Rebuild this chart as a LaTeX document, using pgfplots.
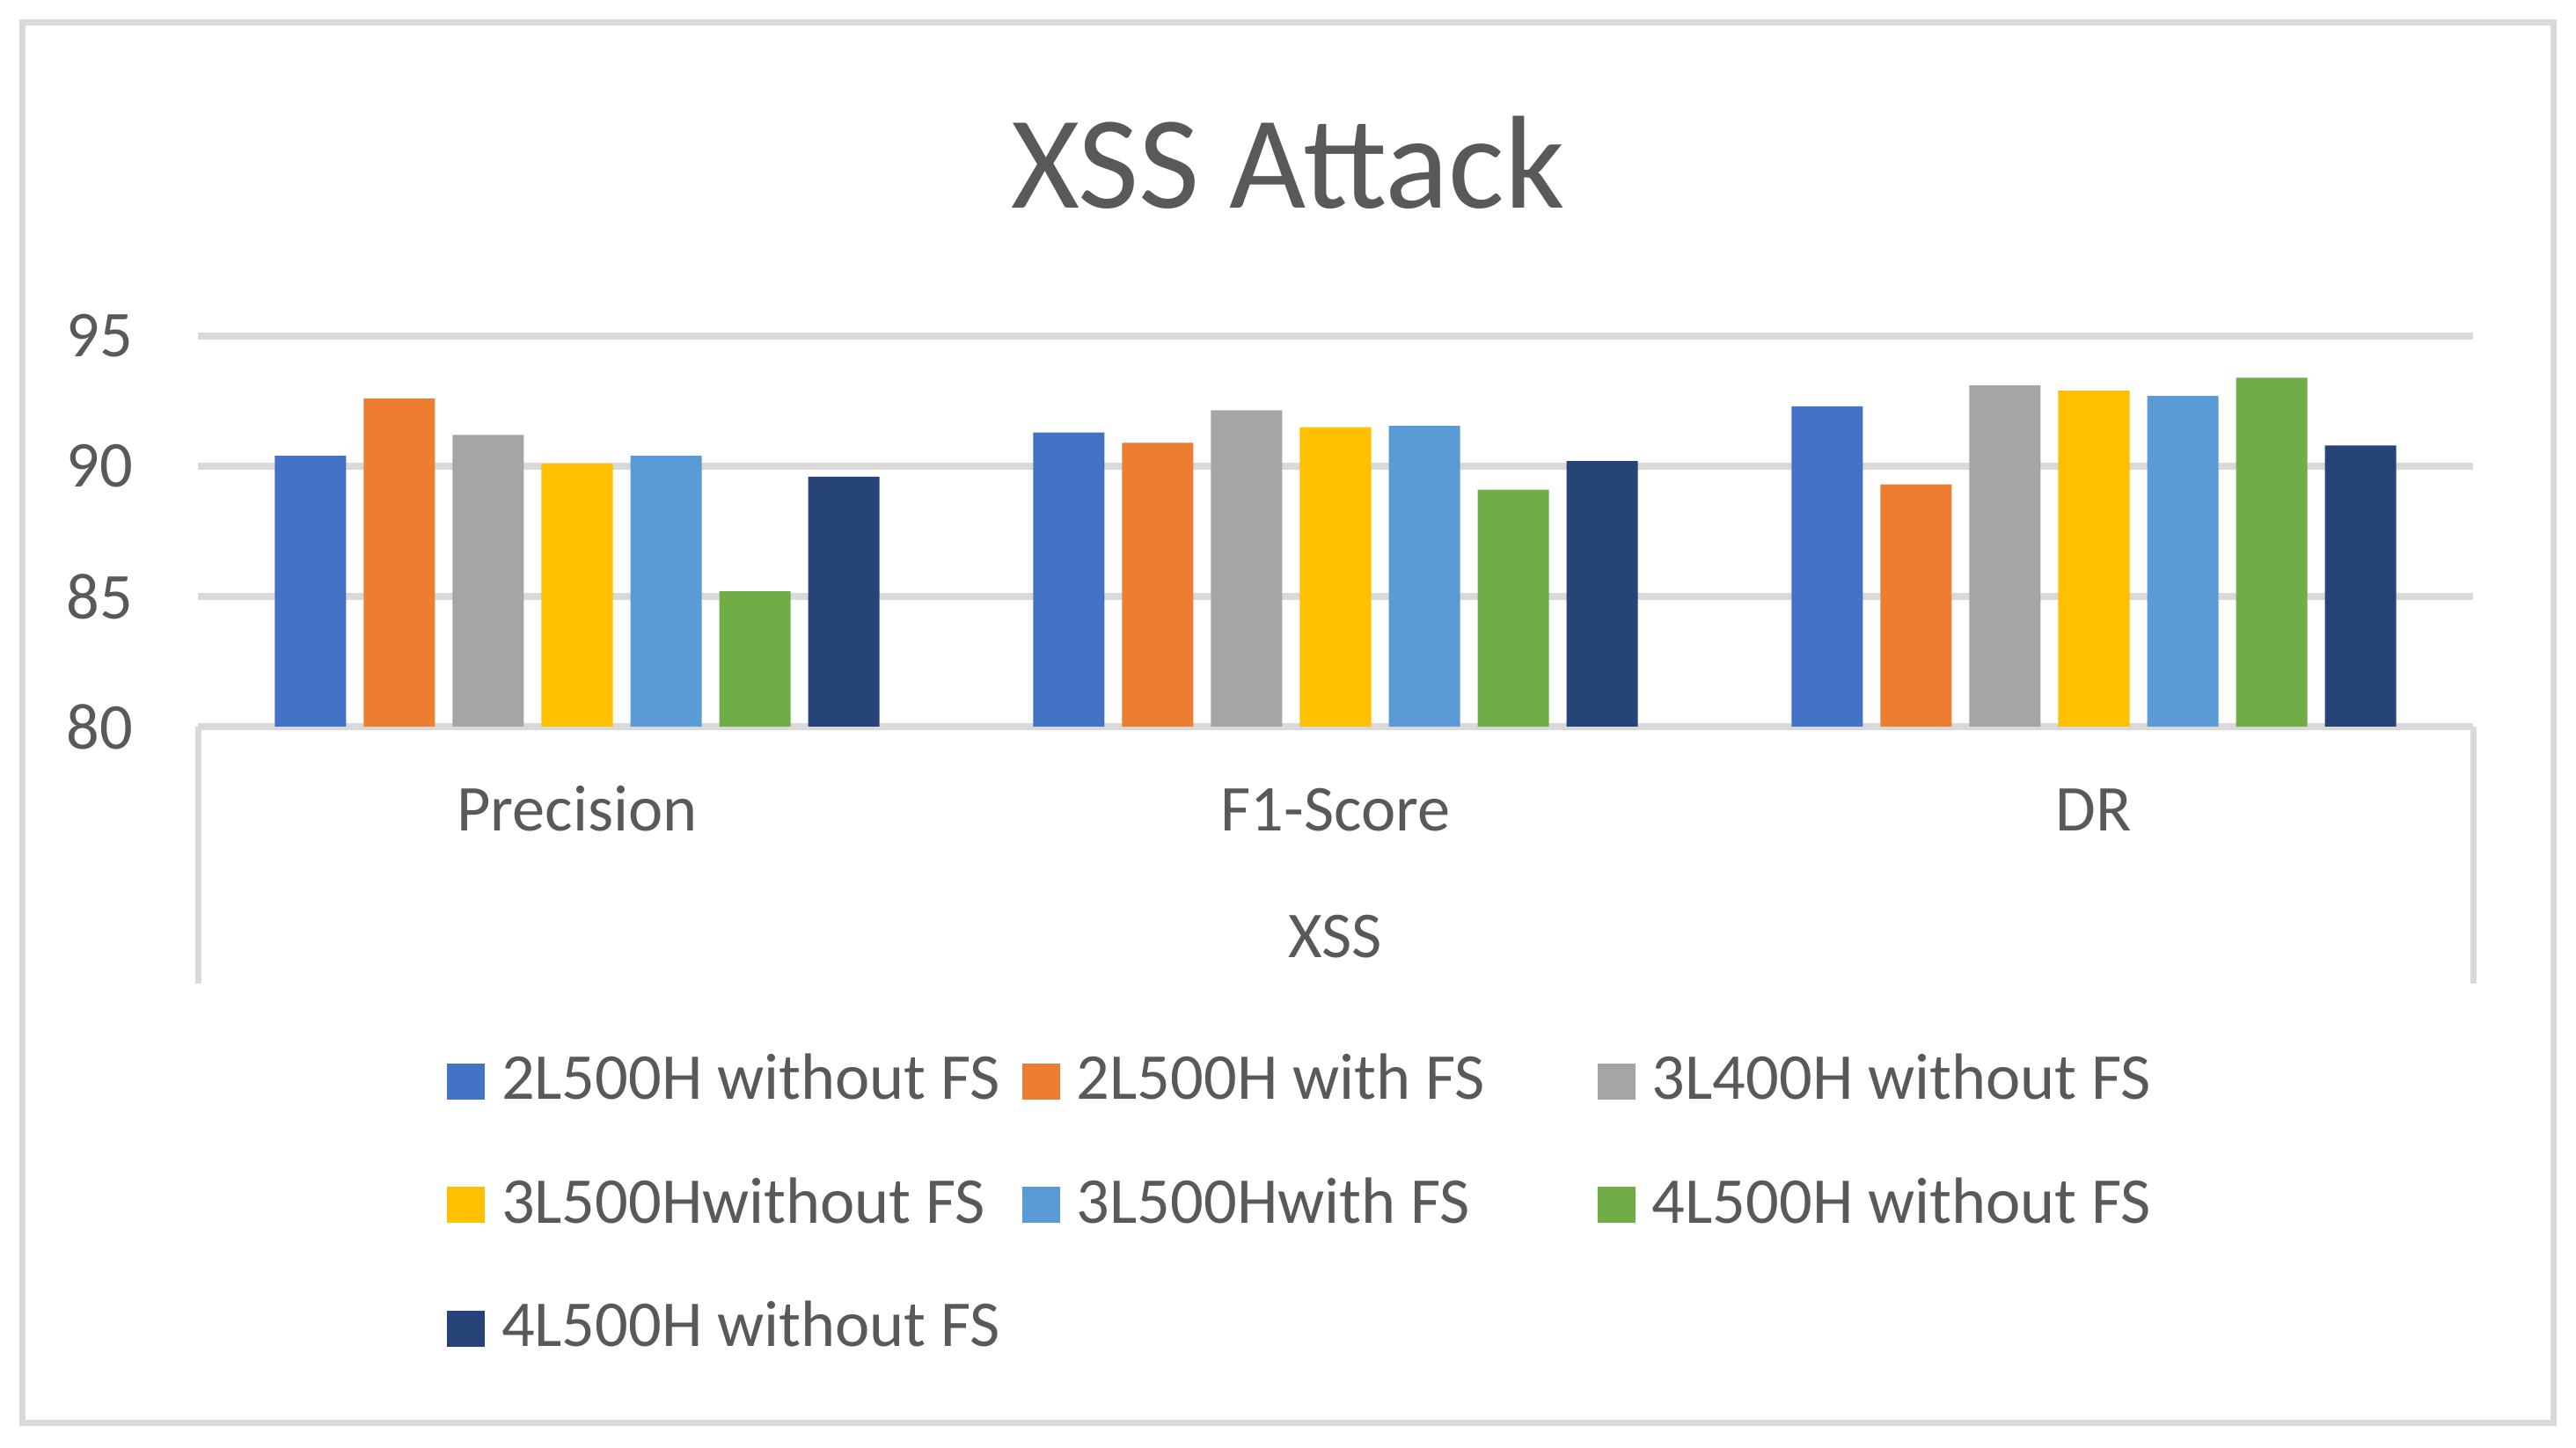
\documentclass[border=0pt]{standalone}
\usepackage{fontspec}
\setmainfont{Carlito}
\usepackage{pgfplots}
\usepackage{pgfplotstable}
\pgfplotsset{compat=1.18}
\definecolor{c1}{HTML}{4472C4}
\definecolor{c2}{HTML}{ED7D31}
\definecolor{c3}{HTML}{A5A5A5}
\definecolor{c4}{HTML}{FFC000}
\definecolor{c5}{HTML}{5B9BD5}
\definecolor{c6}{HTML}{70AD47}
\definecolor{c7}{HTML}{264478}
\definecolor{grd}{HTML}{D9D9D9}
\definecolor{txt}{HTML}{595959}
\pgfplotstableread{
x s1 s2 s3 s4 s5 s6 s7
0 90.4 92.6 91.2 90.1 90.4 85.2 89.6
1 91.3 90.9 92.15 91.5 91.55 89.1 90.2
2 92.3 89.3 93.1 92.9 92.7 93.4 90.8
}\datatable
\newcommand{\lab}[1]{\makebox[148pt][l]{#1}}
\begin{document}
\color{txt}
\begin{tikzpicture}
\path[use as bounding box] (0pt,0pt) rectangle (732pt,411.5pt);
\draw[grd, line width=1.75pt] (6.25pt,7pt) rectangle (725.5pt,405pt);
\begin{axis}[
  name=ax,
  at={(56.25pt,205pt)}, anchor=south west,
  scale only axis, width=646.5pt, height=111pt,
  xmin=-0.5, xmax=2.5, ymin=80, ymax=95,
  ytick={80,85,90,95},
  xtick={0,1,2}, xticklabels={Precision,F1-Score,DR},
  ymajorgrids, grid style={line width=2pt, color=grd},
  axis line style={draw=none}, major tick length=0pt,
  /pgf/number format/assume math mode=true,
  tick label style={font=\fontsize{18.6}{22}\selectfont, text=txt},
  xticklabel style={anchor=base, inner sep=0pt, yshift=-29.75pt},
  yticklabel style={anchor=east, inner sep=0pt, xshift=-18.25pt},
  xlabel={XSS},
  xlabel style={at={(axis description cs:0.5,-0.5923)}, anchor=base, inner sep=0pt, font=\fontsize{18.6}{22}\selectfont, text=txt},
  title={XSS Attack},
  every axis title shift=0pt,
  title style={at={(axis description cs:0.47912,1.3266)}, anchor=base, inner sep=0pt, font=\fontsize{37.6}{44}\selectfont, text=txt},
  ybar, bar width=0.094,
  legend columns=3,
  legend style={at={(axis description cs:0.10944,-0.6387)}, anchor=north west,
    draw=none, fill=none, inner sep=0pt, outer sep=0pt,
    cells={anchor=base},
    nodes={inner sep=0pt, text height=35.1pt, text depth=0pt, font=\fontsize{18.6}{22}\selectfont, text=txt},
    /tikz/every odd column/.append style={column sep=4.75pt},
    /tikz/every even column/.append style={column sep=0pt},
    row sep=0pt},
]
\pgfplotsset{sq/.style={legend image code/.code={\fill[##1] (0pt,0pt) rectangle (10.75pt,10.25pt);}}}
\addplot[fill=c1, draw=none, bar shift=-0.3516, sq] table[x=x, y=s1] {\datatable};
\addplot[fill=c2, draw=none, bar shift=-0.2344, sq] table[x=x, y=s2] {\datatable};
\addplot[fill=c3, draw=none, bar shift=-0.1172, sq] table[x=x, y=s3] {\datatable};
\addplot[fill=c4, draw=none, bar shift=0, sq] table[x=x, y=s4] {\datatable};
\addplot[fill=c5, draw=none, bar shift=0.1172, sq] table[x=x, y=s5] {\datatable};
\addplot[fill=c6, draw=none, bar shift=0.2344, sq] table[x=x, y=s6] {\datatable};
\addplot[fill=c7, draw=none, bar shift=0.3516, sq] table[x=x, y=s7] {\datatable};
\legend{\lab{2L500H without FS},\lab{2L500H with FS},\lab{3L400H without FS},\lab{3L500Hwithout FS},\lab{3L500Hwith FS},\lab{4L500H without FS},\lab{4L500H without FS}}
\end{axis}
\draw[grd, line width=1.75pt] (ax.south west) -- ++(0pt,-73pt);
\draw[grd, line width=1.75pt] (ax.south east) -- ++(0pt,-73pt);
\end{tikzpicture}
\end{document}
